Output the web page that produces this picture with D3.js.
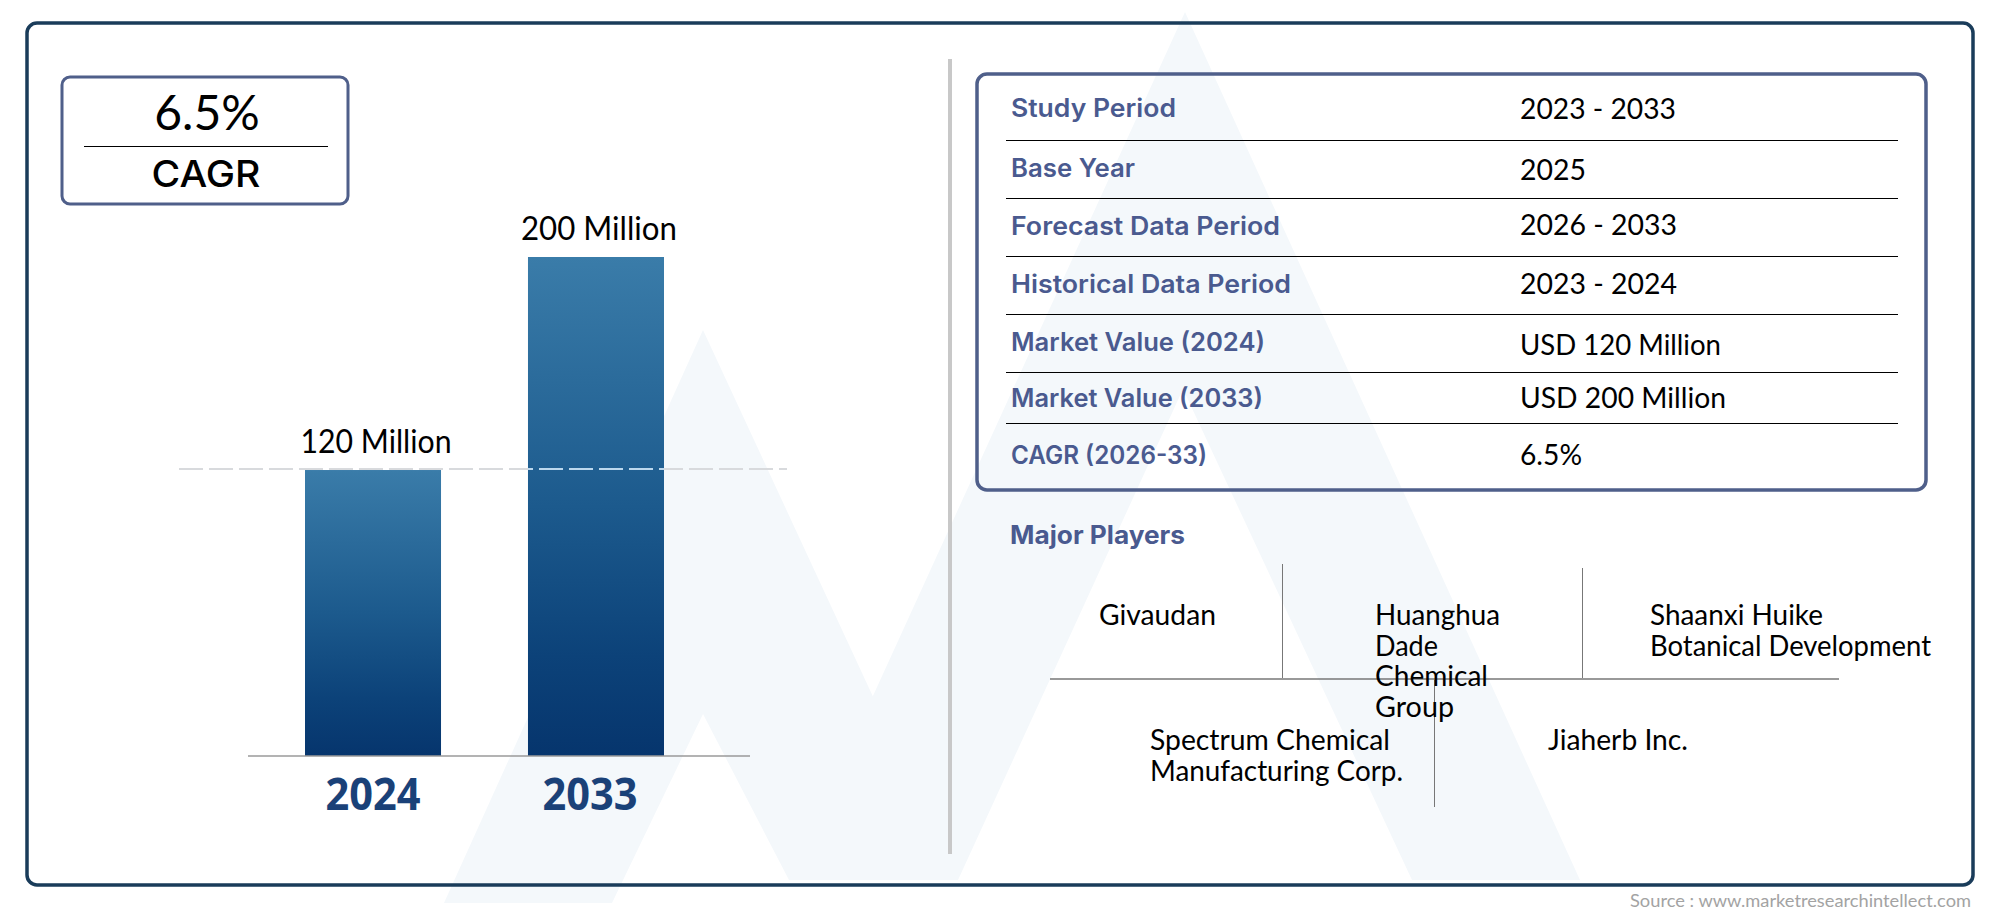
<!DOCTYPE html>
<html>
<head>
<meta charset="utf-8">
<script src="https://cdn.jsdelivr.net/npm/d3@7"></script>
<style>
  html, body { margin: 0; background: #fff; }
  svg { display: block; }
  .jost { font-family: Lato, sans-serif; fill: #000; }
  .mont { font-family: Inter, sans-serif; }
</style>
</head>
<body>
<svg id="chart" width="2000" height="917"></svg>
<script>
const years = ["2024", "2033"];
const marketValues = [120, 200];
const valueLabels = ["120 Million", "200 Million"];

const rowLabels = ["Study Period", "Base Year", "Forecast Data Period", "Historical Data Period",
  "Market Value (2024)", "Market Value (2033)", "CAGR (2026-33)"];
const rowValues = ["2023 - 2033", "2025", "2026 - 2033", "2023 - 2024",
  "USD 120 Million", "USD 200 Million", "6.5%"];

const players = [
  ["Givaudan"],
  ["Huanghua", "Dade", "Chemical", "Group"],
  ["Shaanxi Huike", "Botanical Development"],
  ["Spectrum Chemical", "Manufacturing Corp."],
  ["Jiaherb Inc."]
];

const navy = "#1a3c5a";
const slate = "#4f5f8a";
const labelBlue = "#4a5a8f";

const svg = d3.select("#chart");
const defs = svg.append("defs");

// squeeze or stretch a text to the width it has in the picture
const fit = (sel, w) => sel.attr("textLength", w).attr("lengthAdjust", "spacingAndGlyphs");

const grad = defs.append("linearGradient").attr("id", "barFill")
  .attr("x1", 0).attr("y1", 0).attr("x2", 0).attr("y2", 1);
[[0, "#3a7ca9"], [0.5, "#1c5a8d"], [0.8, "#0c4279"], [1, "#06356d"]].forEach(s =>
  grad.append("stop").attr("offset", s[0]).attr("stop-color", s[1]));

// watermark behind everything
const outline = d3.line();
const wm = svg.append("g").attr("fill", "#f4f8fb");
wm.append("path").attr("d", outline([[703, 330], [958, 880], [789, 880], [703, 714], [612, 903], [444, 903]]) + "Z");
wm.append("path").attr("d", outline([[1185, 12], [1580, 880], [1412, 880], [1183, 389], [958, 880], [789, 880]]) + "Z");

// outer frame
svg.append("rect").attr("x", 27).attr("y", 23).attr("width", 1946).attr("height", 862).attr("rx", 10)
  .attr("fill", "none").attr("stroke", navy).attr("stroke-width", 3.5);

// CAGR box
svg.append("rect").attr("x", 62).attr("y", 77).attr("width", 286).attr("height", 127).attr("rx", 8)
  .attr("fill", "none").attr("stroke", slate).attr("stroke-width", 3);
svg.append("text").attr("class", "jost").attr("x", 207).attr("y", 130).attr("text-anchor", "middle")
  .attr("font-size", 48).text("6.5%");
svg.append("line").attr("x1", 84).attr("x2", 328).attr("y1", 146.5).attr("y2", 146.5).attr("stroke", "#000").attr("stroke-width", 1);
svg.append("text").attr("class", "mont").attr("x", 206).attr("y", 187).attr("text-anchor", "middle")
  .attr("font-size", 37).attr("font-weight", 500).attr("fill", "#000").text("CAGR").call(fit, 109);

// bars
const x = d3.scaleBand().domain(years).range([305, 664]).paddingInner(0.39);
// the picture's bars are not proportional to zero, so the baseline value is read off the bar heights
const y = d3.scaleLinear().domain([12.6, 200]).range([756, 257]);

svg.append("g").selectAll("rect").data(years).join("rect")
  .attr("x", d => x(d))
  .attr("y", (d, i) => y(marketValues[i]))
  .attr("width", x.bandwidth())
  .attr("height", (d, i) => y.range()[0] - y(marketValues[i]))
  .attr("fill", "url(#barFill)");

svg.append("line").attr("x1", 248).attr("x2", 750).attr("y1", 756).attr("y2", 756)
  .attr("stroke", "#9a9a9a").attr("stroke-width", 1.5);

// dashed reference line, lighter blue where it crosses the taller bar
const refY = y(marketValues[0]) - 1;
defs.append("clipPath").attr("id", "tallBar").append("rect")
  .attr("x", x(years[1])).attr("y", y(marketValues[1]))
  .attr("width", x.bandwidth()).attr("height", y.range()[0] - y(marketValues[1]));
const dash = stroke => svg.append("line").attr("x1", 179).attr("x2", 787).attr("y1", refY).attr("y2", refY)
  .attr("stroke", stroke).attr("stroke-width", 2).attr("stroke-dasharray", "24 6");
dash("#d8dadd");
dash("#bcd8ee").attr("clip-path", "url(#tallBar)");

svg.append("g").selectAll("text").data(years).join("text")
  .attr("class", "jost")
  .attr("x", d => x(d) + x.bandwidth() / 2 + 3)
  .attr("y", (d, i) => y(marketValues[i]) - 17)
  .attr("text-anchor", "middle").attr("font-size", 32)
  .attr("textLength", (d, i) => [151, 156][i]).attr("lengthAdjust", "spacingAndGlyphs")
  .text((d, i) => valueLabels[i]);

const xAxis = svg.append("g").attr("transform", "translate(0,756)")
  .call(d3.axisBottom(x).tickSize(0).tickPadding(23));
xAxis.select(".domain").remove();
xAxis.selectAll("text")
  .attr("font-family", "'Open Sans', sans-serif").attr("font-size", 44).attr("font-weight", 700)
  .attr("fill", "#1a4178").attr("dx", (d, i) => i ? -6 : 0)
  .attr("textLength", 95).attr("lengthAdjust", "spacingAndGlyphs");

// divider
svg.append("line").attr("x1", 950).attr("x2", 950).attr("y1", 59).attr("y2", 854)
  .attr("stroke", "#c8c8c8").attr("stroke-width", 4);

// summary table
svg.append("rect").attr("x", 977).attr("y", 74).attr("width", 949).attr("height", 416).attr("rx", 10)
  .attr("fill", "none").attr("stroke", slate).attr("stroke-width", 3.5);

const ruleY = [140, 198, 256, 314, 372, 423];
const labelY = [117, 177, 235, 293, 351, 407, 464];
const valueY = [119, 180, 235, 294, 355, 408, 465];
const labelW = [165, 124, 269, 280, 254, 252, 196];
const valueW = [156, 66, 157, 157, 201, 206, 62];

svg.append("g").selectAll("line").data(ruleY).join("line")
  .attr("x1", 1006).attr("x2", 1898).attr("y1", d => d + 0.5).attr("y2", d => d + 0.5)
  .attr("stroke", "#000").attr("stroke-width", 1);

svg.append("g").selectAll("text").data(rowLabels).join("text")
  .attr("class", "mont").attr("x", 1011).attr("y", (d, i) => labelY[i])
  .attr("font-size", 25).attr("font-weight", 600).attr("fill", labelBlue)
  .attr("textLength", (d, i) => labelW[i]).attr("lengthAdjust", "spacingAndGlyphs")
  .text(d => d);

svg.append("g").selectAll("text").data(rowValues).join("text")
  .attr("class", "jost").attr("x", 1520).attr("y", (d, i) => valueY[i])
  .attr("font-size", 29)
  .attr("textLength", (d, i) => valueW[i]).attr("lengthAdjust", "spacingAndGlyphs")
  .text(d => d);

// major players
svg.append("text").attr("class", "mont").attr("x", 1010).attr("y", 544)
  .attr("font-size", 25).attr("font-weight", 700).attr("fill", labelBlue).text("Major Players").call(fit, 175);

const tree = svg.append("g").attr("stroke", "#777");
tree.append("line").attr("x1", 1050).attr("x2", 1839).attr("y1", 679).attr("y2", 679).attr("stroke-width", 1.5);
[[1282.5, 564, 678], [1582.5, 568, 678], [1434.5, 680, 807]].forEach(v =>
  tree.append("line").attr("x1", v[0]).attr("x2", v[0]).attr("y1", v[1]).attr("y2", v[2]).attr("stroke-width", 1));

const playerX = [1099, 1375, 1650, 1150, 1548];
const playerY = [625, 625, 625, 750, 750];
const lineW = [[117], [125, 63, 113, 79], [173, 281], [240, 253], [140]];
const playerText = svg.append("g").selectAll("text").data(players).join("text")
  .attr("class", "jost").attr("font-size", 28)
  .attr("x", (d, i) => playerX[i]).attr("y", (d, i) => playerY[i]);
playerText.each(function (lines, p) {
  lines.forEach((t, i) => {
    d3.select(this).append("tspan")
      .attr("x", playerX[p]).attr("y", playerY[p] + i * 30.5)
      .attr("textLength", lineW[p][i]).attr("lengthAdjust", "spacingAndGlyphs")
      .text(t);
  });
});

// source
svg.append("text").attr("x", 1630).attr("y", 907)
  .attr("font-family", "Lato, sans-serif").attr("font-size", 18).attr("fill", "#a3a3a3")
  .text("Source : www.marketresearchintellect.com").call(fit, 341);
</script>
</body>
</html>
